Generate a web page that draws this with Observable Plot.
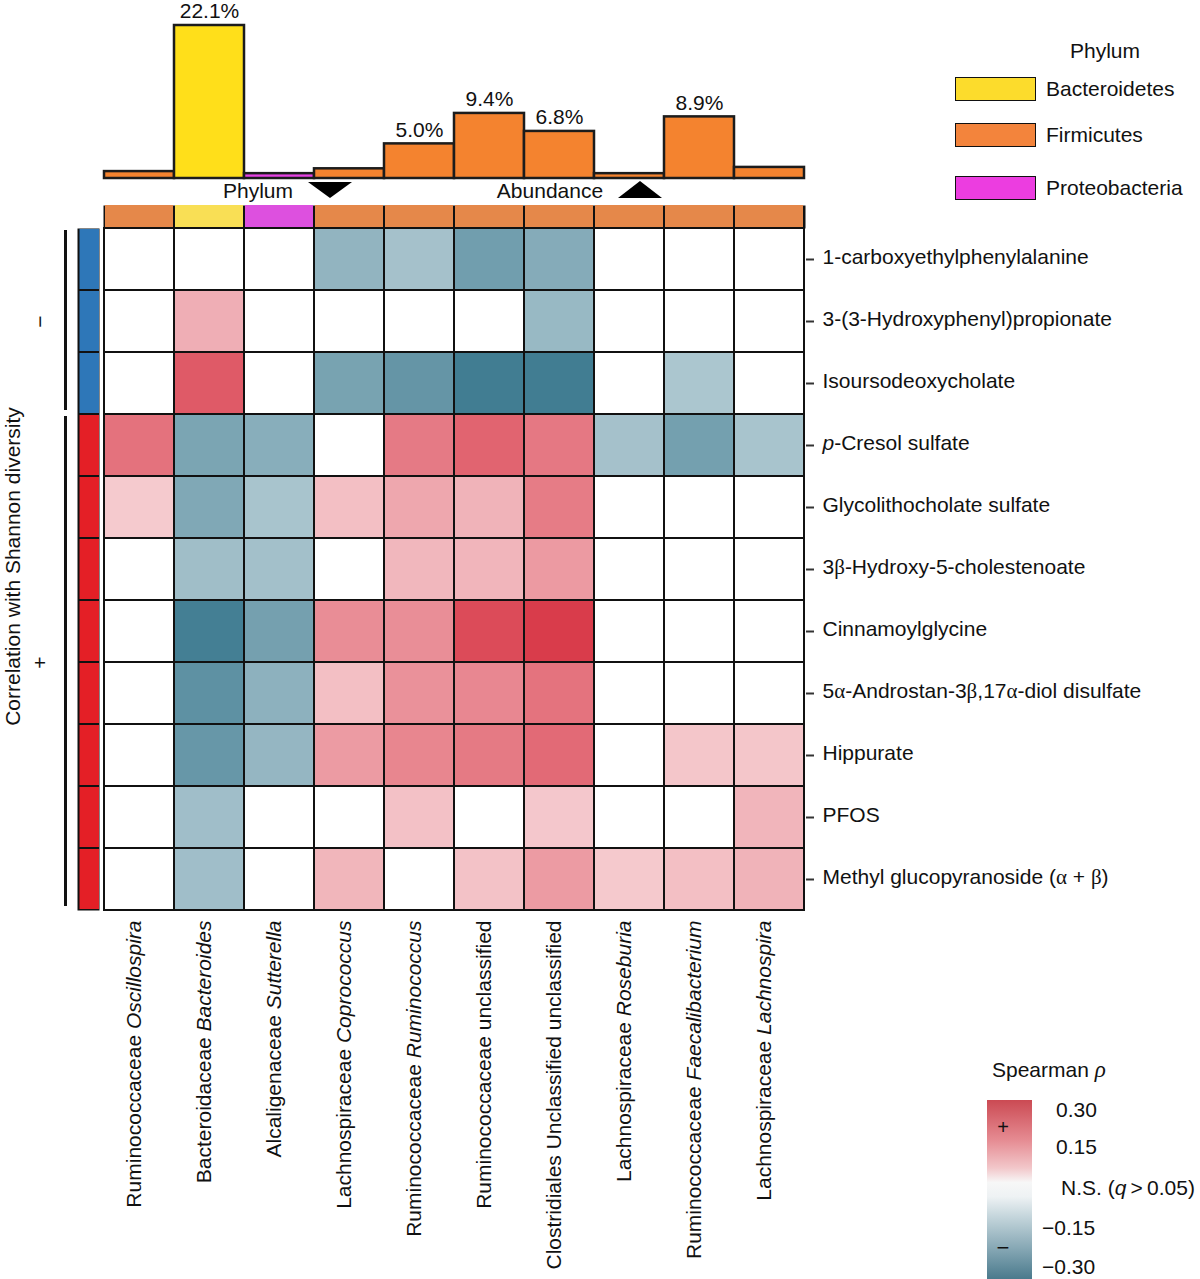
<!DOCTYPE html>
<html><head><meta charset="utf-8">
<script src="https://cdn.jsdelivr.net/npm/d3@7"></script>
<script src="https://cdn.jsdelivr.net/npm/@observablehq/plot@0.6"></script>
<style>
body{margin:0;background:#fff;font-family:"Liberation Sans",Arial,sans-serif;color:#111;}
#chart{position:relative;width:1200px;height:1279px;overflow:hidden;background:#fff;}
.abs{position:absolute;}
.abs svg{overflow:visible;}
.lbl{position:absolute;font-size:21px;white-space:nowrap;line-height:1;}
.tri-down{position:absolute;width:0;height:0;border-left:22px solid transparent;border-right:22px solid transparent;border-top:16px solid #000;}
.tri-up{position:absolute;width:0;height:0;border-left:22px solid transparent;border-right:22px solid transparent;border-bottom:17px solid #000;}
.swatch{position:absolute;width:79px;height:22px;border:1.8px solid #111;}
</style></head><body><div id="chart"></div>
<script>
// ---------- data ----------
const families = ["Ruminococcaceae","Bacteroidaceae","Alcaligenaceae","Lachnospiraceae","Ruminococcaceae","Ruminococcaceae","Clostridiales Unclassified","Lachnospiraceae","Ruminococcaceae","Lachnospiraceae"];
const genera = ["Oscillospira","Bacteroides","Sutterella","Coprococcus","Ruminococcus","unclassified","unclassified","Roseburia","Faecalibacterium","Lachnospira"];
const genusItalic = [true,true,true,true,true,false,false,true,true,true];
const phyla = ["Firmicutes","Bacteroidetes","Proteobacteria","Firmicutes","Firmicutes","Firmicutes","Firmicutes","Firmicutes","Firmicutes","Firmicutes"];
const abundance = [1.0, 22.1, 0.7, 1.4, 5.0, 9.4, 6.8, 0.7, 8.9, 1.6];
const metabolites = ["1-carboxyethylphenylalanine","3-(3-Hydroxyphenyl)propionate","Isoursodeoxycholate","p-Cresol sulfate","Glycolithocholate sulfate","3β-Hydroxy-5-cholestenoate","Cinnamoylglycine","5α-Androstan-3β,17α-diol disulfate","Hippurate","PFOS","Methyl glucopyranoside (α + β)"];
const shannonSign = ["−","−","−","+","+","+","+","+","+","+","+"];
// Spearman rho (null = not significant)
const rho = [
  [null, null, null, -0.17, -0.14, -0.22, -0.19, null, null, null],
  [null, 0.12, null, null, null, null, -0.16, null, null, null],
  [null, 0.245, null, -0.21, -0.24, -0.295, -0.295, null, -0.13, null],
  [0.21, -0.205, -0.185, null, 0.197, 0.23, 0.20, -0.14, -0.216, -0.135],
  [0.079, -0.197, -0.135, 0.095, 0.13, 0.113, 0.195, null, null, null],
  [null, -0.148, -0.143, null, 0.107, 0.11, 0.15, null, null, null],
  [null, -0.29, -0.215, 0.17, 0.168, 0.267, 0.29, null, null, null],
  [null, -0.25, -0.177, 0.095, 0.163, 0.178, 0.208, null, null, null],
  [null, -0.236, -0.165, 0.148, 0.18, 0.198, 0.221, null, 0.085, 0.085],
  [null, -0.147, null, null, 0.092, null, 0.083, null, null, 0.11],
  [null, -0.147, null, 0.109, null, 0.09, 0.148, 0.08, 0.095, 0.113]
];
const phylumNames = ["Bacteroidetes","Firmicutes","Proteobacteria"];
const phylumBarColors = ["#ffdf1a","#f4832f","#e542e2"];
const phylumStripColors = ["#f9df55","#e5884a","#dd50df"];
const phylumLegendColors = ["#fcdc2c","#f3843c","#ec3de0"];
const signNames = ["−","+"];
const signColors = ["#2e77b8","#e41f26"];
const rhoDomain = [-0.3, 0, 0.3];
const rhoColors = ["#3e7b90","#ffffff","#d83545"];
const rhoTickLabels = ["0.30","0.15","N.S. (q > 0.05)","−0.15","−0.30"];

// ---------- derived tables ----------
const taxa = families.map((f,i)=>f+" "+genera[i]);
const taxonTable = taxa.map((t,i)=>({taxon:t, phylum:phyla[i], abundance:abundance[i]}));
const cells = metabolites.flatMap((m,r)=>taxa.map((t,c)=>({metabolite:m, taxon:t, rho:rho[r][c]})));
const signTable = metabolites.map((m,i)=>({metabolite:m, sign:shannonSign[i]}));
const groups = [];
shannonSign.forEach((s,i)=>{
  const g = groups[groups.length-1];
  if (g && g.sign===s) g.last=i; else groups.push({sign:s, first:i, last:i});
});
groups.forEach(g=>{
  g.y1 = metabolites[g.first]; g.y2 = metabolites[g.last];
  const n = g.last-g.first+1;
  g.mid = metabolites[Math.floor((g.first+g.last+1)/2)];
  g.even = n%2===0;
});

const FONT = '"Liberation Sans", Arial, sans-serif';
const FS = 21;
const chart = document.getElementById("chart");
function place(node,left,top){const d=document.createElement("div");d.className="abs";d.style.left=left+"px";d.style.top=top+"px";d.appendChild(node);chart.appendChild(d);return d;}
function label(text,left,top,extra){const s=document.createElement("div");s.className="lbl";s.style.left=left+"px";s.style.top=top+"px";if(extra)Object.assign(s.style,extra);s.innerHTML=text;chart.appendChild(s);return s;}
const baseStyle = {fontFamily:FONT, fontSize:FS+"px", background:"transparent", overflow:"visible", color:"#111"};
const ML = 103, MR = 395;
const HEAT_TOP = 228, HEAT_H = 682;

// ---------- abundance bars ----------
const barPlot = Plot.plot({
  width:1200, height:180, marginLeft:ML, marginRight:MR, marginTop:25, marginBottom:2,
  style:baseStyle,
  x:{domain:taxa, padding:0, axis:null},
  y:{domain:[0, d3.max(abundance)], axis:null},
  color:{domain:phylumNames, range:phylumBarColors},
  marks:[
    Plot.barY(taxonTable,{x:"taxon", y:"abundance", fill:"phylum", stroke:"#1c1c1c", strokeWidth:2.5}),
    Plot.text(taxonTable.filter(d=>d.abundance>=4),{x:"taxon", y:"abundance", text:d=>d.abundance.toFixed(1)+"%", dy:-14, fontSize:21})
  ]
});
place(barPlot,0,0);

// ---------- phylum strip ----------
const stripPlot = Plot.plot({
  width:1200, height:23, marginLeft:ML, marginRight:MR, marginTop:0, marginBottom:0,
  style:baseStyle,
  x:{domain:taxa, padding:0, axis:null},
  color:{domain:phylumNames, range:phylumStripColors},
  marks:[
    Plot.frame({fill:"#111", stroke:null}),
    Plot.cell(taxonTable,{x:"taxon", fill:"phylum", insetLeft:1, insetRight:1})
  ]
});
place(stripPlot,0,205);

// ---------- heatmap ----------
const heat = Plot.plot({
  width:1200, height:1279-HEAT_TOP, marginLeft:ML, marginRight:MR, marginTop:0, marginBottom:1279-HEAT_TOP-HEAT_H,
  style:baseStyle,
  x:{domain:taxa, padding:0},
  y:{domain:metabolites, padding:0},
  color:{type:"linear", domain:rhoDomain, range:rhoColors, interpolate:"rgb", clamp:true},
  marks:[
    Plot.cell(cells,{x:"taxon", y:"metabolite", fill:"white"}),
    Plot.cell(cells.filter(d=>d.rho!=null),{x:"taxon", y:"metabolite", fill:"rho"}),
    Plot.cell(cells,{x:"taxon", y:"metabolite", fill:"none", stroke:"#111", strokeWidth:2}),
    Plot.axisY({anchor:"right", tickSize:8, tickPadding:9, label:null, fontSize:FS, strokeWidth:2, stroke:"#333"}),
    Plot.axisX({anchor:"bottom", tickSize:0, tickPadding:10, tickRotate:-90, label:null, fontSize:FS})
  ]
});
place(heat,0,HEAT_TOP);

// italic genus names on column labels
const xLab = d3.select(heat).select('g[aria-label="x-axis tick label"]');
xLab.attr("transform", (xLab.attr("transform")||"") + " translate(-5,0)");
xLab.selectAll("text").each(function(){
  const t = d3.select(this); const txt = t.text();
  const k = taxa.indexOf(txt); if (k<0) return;
  t.text(null);
  t.append("tspan").text(families[k]+" ");
  t.append("tspan").attr("font-style", genusItalic[k] ? "italic" : null).text(genera[k]);
});
// row labels: italic "p", serif greek letters
const yLab = d3.select(heat).select('g[aria-label="y-axis tick label"]');
yLab.attr("transform", (yLab.attr("transform")||"") + " translate(0,-2)");
yLab.selectAll("text").each(function(){
  const t = d3.select(this); const txt = t.text();
  t.text(null);
  if (txt.startsWith("p-")) {
    t.append("tspan").attr("font-style","italic").text("p");
    t.append("tspan").text(txt.slice(1));
    return;
  }
  const parts = txt.split(/([α-ω]+)/);
  parts.forEach(p=>{
    if (!p) return;
    const s = t.append("tspan").text(p);
    if (/^[α-ω]+$/.test(p)) s.attr("font-family",'"Liberation Serif", "DejaVu Serif", serif');
  });
});

// ---------- left sign strip ----------
const leftPlot = Plot.plot({
  width:103, height:HEAT_H, marginLeft:77, marginRight:4, marginTop:0, marginBottom:0,
  style:baseStyle,
  x:{domain:["Shannon"], padding:0, axis:null},
  y:{domain:metabolites, padding:0, axis:null},
  color:{domain:signNames, range:signColors},
  marks:[
    Plot.frame({fill:"#111", stroke:null}),
    Plot.cell(signTable,{x:()=>"Shannon", y:"metabolite", fill:"sign", insetTop:1, insetBottom:1, insetLeft:2.5}),
    Plot.ruleX(groups,{x:()=>"Shannon", y1:"y1", y2:"y2", dx:-23, strokeWidth:3, stroke:"#111", insetTop:2, insetBottom:4}),
    Plot.text(groups.filter(g=>!g.even),{x:()=>"Shannon", y:"mid", text:"sign", dx:-48, rotate:-90, fontSize:FS}),
    Plot.text(groups.filter(g=>g.even),{x:()=>"Shannon", y:"mid", text:"sign", dx:-48, dy:-HEAT_H/metabolites.length/2, rotate:-90, fontSize:FS}),
    Plot.text(["Correlation with Shannon diversity"],{frameAnchor:"left", textAnchor:"middle", rotate:-90, dx:-64, dy:-3, fontSize:FS})
  ]
});
place(leftPlot,0,HEAT_TOP);

// ---------- Phylum / Abundance annotations ----------
label("Phylum",258,190,{transform:"translate(-50%,-50%)"});
const td=document.createElement("div");td.className="tri-down";td.style.left="308px";td.style.top="182px";chart.appendChild(td);
label("Abundance",550,190,{transform:"translate(-50%,-50%)"});
const tu=document.createElement("div");tu.className="tri-up";tu.style.left="618px";tu.style.top="181px";chart.appendChild(tu);

// ---------- phylum legend ----------
label("Phylum",1105,50,{transform:"translate(-50%,-50%)"});
const swTops=[77,123,176];
phylumNames.forEach((p,i)=>{
  const s=document.createElement("div");s.className="swatch";s.style.left="955px";s.style.top=swTops[i]+"px";s.style.background=phylumLegendColors[i];chart.appendChild(s);
  label(p,1046,swTops[i]+11,{transform:"translateY(-50%)"});
});

// ---------- Spearman colorbar legend ----------
label('Spearman <i style="font-family:\'Liberation Serif\',serif;font-size:23px">ρ</i>',992,1069,{transform:"translateY(-50%)"});
const cb=document.createElement("div");
cb.style.cssText="position:absolute;left:987px;top:1100px;width:45px;height:179px;background:linear-gradient(to bottom,#cb4a53 0%,#e58a91 22%,#f2c7ca 38%,#f7f7f7 46%,#eef2f4 54%,#c5d6dc 65%,#7fa2b0 85%,#4a7a8c 100%);";
chart.appendChild(cb);
label("+",1003,1127,{transform:"translate(-50%,-50%)",fontSize:"20px"});
label("−",1003,1248,{transform:"translate(-50%,-50%)",fontSize:"22px"});
const tickPos=[[1056,1109],[1056,1146],[1061,1187],[1042,1227],[1042,1266]];
rhoTickLabels.forEach((t,i)=>{
  const html = t.startsWith("N.S.") ? 'N.S. (<i>q</i>&#8201;&gt;&#8201;0.05)' : t;
  label(html,tickPos[i][0],tickPos[i][1],{transform:"translateY(-50%)"});
});
</script></body></html>
